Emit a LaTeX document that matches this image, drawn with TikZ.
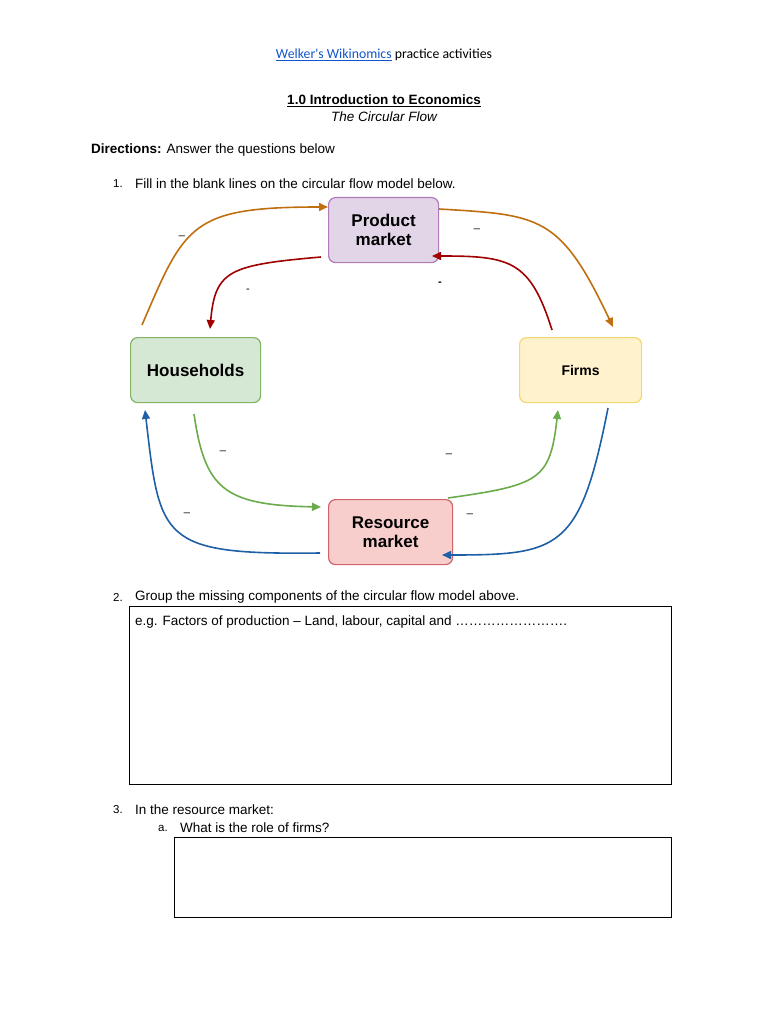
\documentclass[tikz,border=0pt]{standalone}
\usepackage{fontspec}
\setmainfont{Liberation Sans}
\newfontfamily\calib{Carlito}
\usetikzlibrary{arrows.meta}
\definecolor{pfill}{HTML}{E1D5E7}\definecolor{pdraw}{HTML}{B07AB8}
\definecolor{hfill}{HTML}{D5E8D4}\definecolor{hdraw}{HTML}{82B366}
\definecolor{ffill}{HTML}{FFF2CC}\definecolor{fdraw}{HTML}{F5D76E}
\definecolor{rfill}{HTML}{F8CECC}\definecolor{rdraw}{HTML}{D0636A}
\definecolor{corange}{HTML}{C06F10}\definecolor{cred}{HTML}{A00000}
\definecolor{cgreen}{HTML}{6AAB4B}\definecolor{cblue}{HTML}{1F5FA5}
\definecolor{link}{HTML}{1155CC}
\begin{document}
\begin{tikzpicture}[x=1pt,y=-1pt,
 box/.style={draw,rounded corners=7pt,line width=1.2pt,align=center,font=\fontsize{17}{19}\selectfont\bfseries,anchor=north west,inner sep=0pt},
 txt/.style={anchor=west,inner sep=0pt,font=\fontsize{13.5}{16}\selectfont},
 flow/.style={line width=1.6pt,-{Triangle[length=9pt,width=8pt]}},
 blank/.style={inner sep=0pt,font=\fontsize{11}{12}\selectfont}]
\useasboundingbox (0,0) rectangle (768,1024);
\node (hdr) at (384,55) {\calib\fontsize{13.8}{16}\selectfont\textcolor{link}{\underline{Welker's Wikinomics}} practice activities};
\node (t1) at (384,101) {\fontsize{13.5}{16}\selectfont\bfseries\underline{1.0 Introduction to Economics}};
\node (t2) at (384,117) {\fontsize{13.5}{16}\selectfont\itshape The Circular Flow};
\node[txt] (dir) at (91,150) {\textbf{Directions:} Answer the questions below};
\node[txt] (q1n) at (113,184) {\fontsize{11.5}{14}\selectfont 1.};
\node[txt] (q1) at (135,184) {Fill in the blank lines on the circular flow model below.};

\node[box,fill=pfill,draw=pdraw,minimum width=110pt,minimum height=65pt] (pm) at (328,197) {Product\\market};
\node[box,fill=hfill,draw=hdraw,minimum width=130pt,minimum height=65pt] (hh) at (130,337) {Households};
\node[box,fill=ffill,draw=fdraw,minimum width=122pt,minimum height=65pt,font=\fontsize{14}{16}\selectfont\bfseries] (fi) at (519,337) {Firms};
\node[box,fill=rfill,draw=rdraw,minimum width=124pt,minimum height=65pt] (rm) at (328,499) {Resource\\market};

\coordinate (o1) at (142,325); \coordinate (o2) at (328,207);
\coordinate (o3) at (439,209); \coordinate (o4) at (613,327);
\coordinate (r1) at (321,257); \coordinate (r2) at (210,329);
\coordinate (r3) at (552,330); \coordinate (r4) at (432,256);
\coordinate (g1) at (194,414); \coordinate (g2) at (321,507);
\coordinate (g3) at (448,498); \coordinate (g4) at (558,410);
\coordinate (b1) at (320,553); \coordinate (b2) at (145,410);
\coordinate (b3) at (608,408); \coordinate (b4) at (442,555);
\draw[flow,corange] (o1) .. controls (185,225) and (190,207) .. (o2);
\draw[flow,corange] (o3) .. controls (540,215) and (560,215) .. (o4);
\draw[flow,cred] (r1) .. controls (230,265) and (215,270) .. (r2);
\draw[flow,cred] (r3) .. controls (530,260) and (510,256) .. (r4);
\draw[flow,cgreen] (g1) .. controls (205,490) and (225,505) .. (g2);
\draw[flow,cgreen] (g3) .. controls (540,485) and (550,480) .. (g4);
\draw[flow,cblue] (b1) .. controls (160,555) and (160,540) .. (b2);
\draw[flow,cblue] (b3) .. controls (580,550) and (560,555) .. (b4);

\node[blank] (d1) at (182,236) {\_};
\node[blank] (d2) at (477,229) {\_};
\node[blank] (d3) at (248,291) {-};
\node[blank] (d4) at (440,284) {\textbf{-}};
\node[blank] (d5) at (223,451) {\_};
\node[blank] (d6) at (449,454) {\_};
\node[blank] (d7) at (187,513) {\_};
\node[blank] (d8) at (470,514) {\_};

\node[txt] (q2n) at (113,597) {\fontsize{11.5}{14}\selectfont 2.};
\node[txt] (q2) at (135,597) {Group the missing components of the circular flow model above.};
\node[draw,line width=0.8pt,anchor=north west,minimum width=542pt,minimum height=178pt,inner sep=0pt] (bx1) at (129,606) {};
\node[txt] (eg) at (135,622) {e.g. Factors of production -- Land, labour, capital and \dots\dots\dots\dots\dots\dots\dots\dots.};
\node[txt] (q3n) at (113,810) {\fontsize{11.5}{14}\selectfont 3.};
\node[txt] (q3) at (135,810) {In the resource market:};
\node[txt] (q3an) at (158,828) {\fontsize{11.5}{14}\selectfont a.};
\node[txt] (q3a) at (180,828) {What is the role of firms?};
\node[draw,line width=0.8pt,anchor=north west,minimum width=497pt,minimum height=80pt,inner sep=0pt] (bx2) at (174,837) {};
\end{tikzpicture}
\end{document}
